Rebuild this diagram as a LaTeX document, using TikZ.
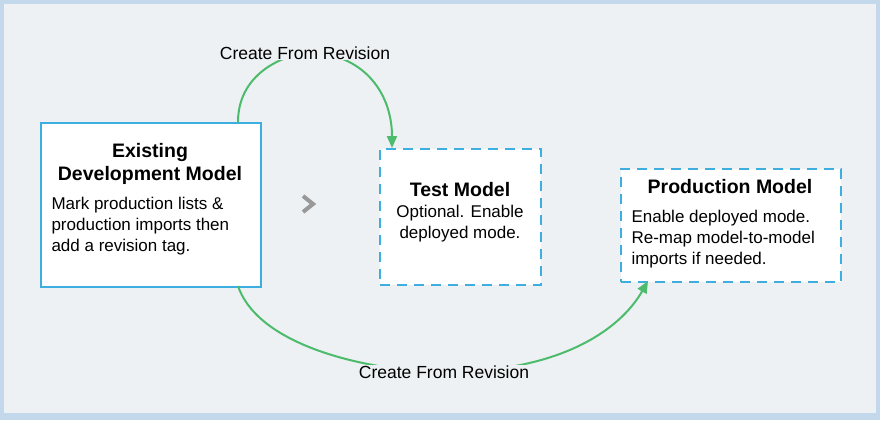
\documentclass[tikz,border=0pt]{standalone}
\usepackage{fontspec}
\setmainfont{Liberation Sans}
\usetikzlibrary{arrows.meta}
\definecolor{boxblue}{HTML}{3DAEE0}
\definecolor{flowgreen}{HTML}{4CBB6C}
\definecolor{frameblue}{HTML}{C3D8EA}
\definecolor{canvas}{HTML}{EDF1F3}
\tikzset{
  model/.style={draw=boxblue, fill=white, line width=2pt, anchor=north west, inner sep=0pt},
  stage/.style={model, dash pattern=on 10pt off 7pt},
  flow/.style={draw=flowgreen, line width=2pt, -{Triangle[length=12pt,width=10pt]}},
  label/.style={fill=canvas, inner sep=1pt, font=\fontsize{17.5}{20}\selectfont}
}
\begin{document}
\begin{tikzpicture}[x=1pt,y=-1pt]
  % background and frame
  \fill[frameblue] (0,0) rectangle (880,420);
  \fill[canvas] (4,4) rectangle (876,413);
  \useasboundingbox (0,0) rectangle (880,420);

  % boxes
  \node[model, minimum width=220pt, minimum height=164pt] (existing) at (40,122) {};
  \node[stage, minimum width=161pt, minimum height=136pt] (test) at (379,148) {};
  \node[stage, minimum width=220pt, minimum height=113pt] (prod) at (620,168) {};

  % texts
  \node[font=\fontsize{19.5}{23}\selectfont\bfseries, align=center] (existingT) at (150,164) {Existing\\Development Model};
  \node[font=\fontsize{17}{21}\selectfont, align=left, anchor=north west] (existingB) at (48,194) {Mark production lists \&\\production imports then\\add a revision tag.};
  \node[font=\fontsize{19.5}{23}\selectfont\bfseries] (testT) at (460,190) {Test Model};
  \node[font=\fontsize{17}{21}\selectfont, align=center] (testB) at (460,224) {Optional. Enable\\deployed mode.};
  \node[font=\fontsize{19.5}{23}\selectfont\bfseries] (prodT) at (730,187) {Production Model};
  \node[font=\fontsize{17}{21}\selectfont, align=left, anchor=north west] (prodB) at (628,207) {Enable deployed mode.\\Re-map model-to-model\\imports if needed.};

  % chevron
  \draw[gray!80, line width=4pt] (303,196) -- (313,204) -- (303,212);

  % connectors
  \coordinate (topStart) at (238,122);
  \coordinate (botStart) at (238,286);
  \draw[flow] (topStart) .. controls (238,70) and (290,53) .. (310,53)
    .. controls (360,53) and (392,90) .. (392,148);
  \draw[flow] (botStart) .. controls (260,350) and (380,372) .. (445,372)
    .. controls (560,372) and (620,330) .. (648,281);
  \node[label] (topL) at (305,53) {Create From Revision};
  \node[label] (botL) at (444,372) {Create From Revision};
\end{tikzpicture}
\end{document}
